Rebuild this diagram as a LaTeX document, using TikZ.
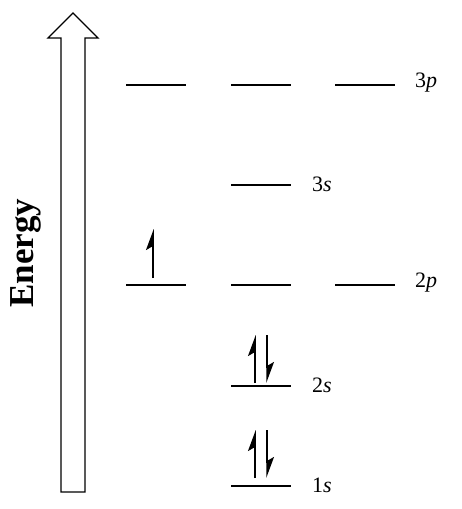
\documentclass[tikz,border=0pt]{standalone}
\usepackage{fontspec}
\setmainfont{Liberation Serif}
\usetikzlibrary{arrows.meta, positioning}

\begin{document}
\begin{tikzpicture}[x=1pt, y=-1pt,
        level/.style={line width=1.4pt},
        every node/.style={
            inner sep=0pt,
            anchor=west,
            font=\fontsize{22}{22}\selectfont},
        spin/.style={line width=1.5pt, -{Stealth[harpoon, length=19pt, width=14pt, inset=4pt]}}]

        \useasboundingbox (0,0) rectangle (461,509);

        % energy axis
        \draw[line width=1.3pt] (61,492) -- (85,492) -- (85,38) -- (98,38) -- (73,13)
            -- (48,38) -- (61,38) -- cycle;
        \node[rotate=90, anchor=center, font=\fontsize{35}{35}\selectfont\bfseries]
            (energy) at (26,253) {Energy};

        % levels
        \foreach \x in {126,231,335} {
            \draw[level] (\x,85) -- ++(60,0);
            \draw[level] (\x,285) -- ++(60,0);
        }
        \draw[level] (231,185) -- ++(60,0);
        \draw[level] (231,386) -- ++(60,0);
        \draw[level] (231,486) -- ++(60,0);

        % labels
        \node (l3p) at (415,83) {3\textit{p}};
        \node (l3s) at (312,184) {3\textit{s}};
        \node (l2p) at (415,283) {2\textit{p}};
        \node (l2s) at (312,385) {2\textit{s}};
        \node (l1s) at (312,485) {1\textit{s}};

        % electrons
        \draw[spin] (153,278) -- (153,229);
        \draw[spin] (255,383) -- (255,335);
        \draw[spin] (267,335) -- (267,383);
        \draw[spin] (255,478) -- (255,430);
        \draw[spin] (267,430) -- (267,478);
    \end{tikzpicture}
\end{document}
